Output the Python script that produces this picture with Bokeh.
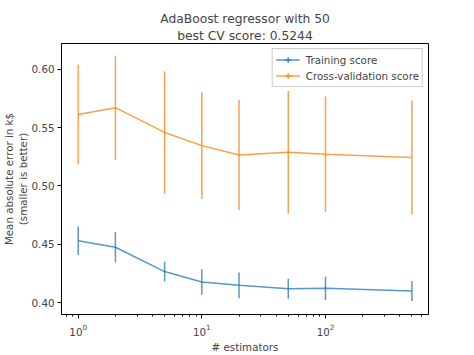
from bokeh.plotting import figure
from bokeh.models import ColumnDataSource, Legend, LegendItem, FixedTicker, PrintfTickFormatter, Range1d, LogTickFormatter, Title
from bokeh.embed import file_html
from bokeh.resources import INLINE

n_estimators = [1, 2, 5, 10, 20, 50, 100, 500]
train_mean = [0.4530, 0.4474, 0.4266, 0.4176, 0.4148, 0.4119, 0.4122, 0.4100]
train_err = [0.0122, 0.0131, 0.0085, 0.0109, 0.0110, 0.0085, 0.0100, 0.0086]
cv_mean = [0.5611, 0.5670, 0.5458, 0.5345, 0.5265, 0.5288, 0.5271, 0.5244]
cv_err = [0.0426, 0.0445, 0.0525, 0.0458, 0.0471, 0.0525, 0.0494, 0.0487]
y_ticks = [0.40, 0.45, 0.50, 0.55, 0.60]
x_ticks = [1, 10, 100]
title_lines = ["AdaBoost regressor with 50", "best CV score: 0.5244"]
ylabel_lines = ["Mean absolute error in k$", "(smaller is better)"]

BLUE = "#1f77b4"
ORANGE = "#ff7f0e"
ALPHA = 0.75
FONT = "DejaVu Sans"

p = figure(width=474, height=355, x_axis_type="log", output_backend="svg",
           toolbar_location=None, x_range=Range1d(0.733, 681), y_range=Range1d(0.3898, 0.622),
           title=title_lines[0])
p.min_border_left = 60
p.min_border_right = 46
p.min_border_bottom = 39
p.min_border_top = 43

p.title.align = "center"
p.title.text_font = FONT
p.title.text_font_size = "12.3px"
p.title.text_font_style = "normal"
p.title.standoff = 0
t2 = Title(text=title_lines[1], align="center", text_font=FONT, text_font_size="12.3px",
           text_font_style="normal", standoff=2)
p.add_layout(t2, "above")

for txt, so in ((ylabel_lines[1], 0), (ylabel_lines[0], 0)):
    p.add_layout(Title(text=txt, align="center", text_font=FONT, text_font_size="10.3px",
                       text_font_style="normal", standoff=so), "left")

p.xgrid.visible = False
p.ygrid.visible = False
p.outline_line_color = "black"
p.outline_line_alpha = 1
p.background_fill_color = "white"
p.border_fill_color = "white"

def errorbar(x, m, e, color, label):
    src = ColumnDataSource(dict(x=x, y=m, lo=[a - b for a, b in zip(m, e)], hi=[a + b for a, b in zip(m, e)]))
    ln = p.line("x", "y", source=src, line_color=color, line_alpha=ALPHA, line_width=1.5)
    sg = p.segment(x0="x", y0="lo", x1="x", y1="hi", source=src, line_color=color, line_alpha=ALPHA, line_width=1.5)
    mk = p.scatter("x", "y", source=src, marker="cross", size=0, line_color=color, line_alpha=ALPHA, line_width=1.5)
    return LegendItem(label=label, renderers=[ln, mk])

items = [errorbar(n_estimators, train_mean, train_err, BLUE, "Training score"),
         errorbar(n_estimators, cv_mean, cv_err, ORANGE, "Cross-validation score")]

legend = Legend(items=items, location="top_right")
legend.label_text_font = FONT
legend.label_text_font_size = "10.3px"
legend.border_line_color = "#cccccc"
legend.border_line_alpha = 1
legend.background_fill_alpha = 0.8
legend.margin = 5
legend.padding = 3
legend.spacing = 1
legend.glyph_width = 24
legend.label_standoff = 6
legend.glyph_height = 15
legend.label_height = 15
p.add_layout(legend)

minor = [m * 10 ** d for d in range(-1, 3) for m in range(2, 10) if 0.733 <= m * 10 ** d <= 681]
p.xaxis.ticker = FixedTicker(ticks=x_ticks, minor_ticks=minor)
p.xaxis.formatter = LogTickFormatter()
p.yaxis.ticker = FixedTicker(ticks=y_ticks)
p.yaxis.formatter = PrintfTickFormatter(format="%.2f")

for ax in (p.xaxis[0], p.yaxis[0]):
    ax.major_tick_in = 0
    ax.major_tick_out = 4
    ax.minor_tick_in = 0
    ax.minor_tick_out = 2
    ax.major_label_text_font = FONT
    ax.major_label_text_font_size = "10.3px"
    ax.axis_label_text_font = FONT
    ax.axis_label_text_font_size = "10.3px"
    ax.axis_label_text_font_style = "normal"
    ax.axis_line_color = "black"
    ax.major_tick_line_color = "black"
    ax.minor_tick_line_color = "black"
p.yaxis.minor_tick_out = 0
p.xaxis.axis_label = "# estimators"
p.xaxis.axis_label_standoff = 2
p.yaxis.major_label_standoff = 3

open("out.html", "w").write(file_html(p, INLINE))
